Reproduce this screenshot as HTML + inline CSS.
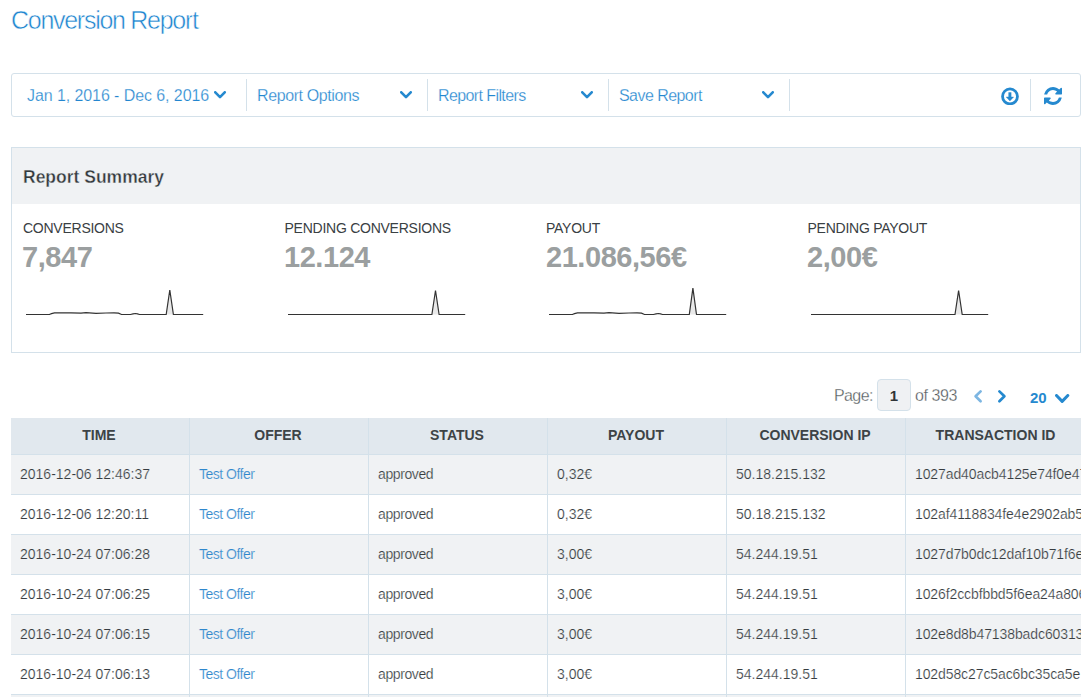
<!DOCTYPE html>
<html>
<head>
<meta charset="utf-8">
<style>
*{box-sizing:border-box;margin:0;padding:0}
html,body{width:1088px;height:697px;overflow:hidden;background:#fff}
body{position:relative;font-family:"Liberation Sans",Arial,sans-serif;color:#333}
.abs{position:absolute;white-space:nowrap}
.blue{color:#2589cf}
h1{position:absolute;left:11px;top:4.6px;font-size:25px;font-weight:400;color:#1e85cf;letter-spacing:-1.28px;line-height:30px;white-space:nowrap;-webkit-text-stroke:0.5px #fff}
.toolbar{position:absolute;left:11px;top:73px;width:1070px;height:44px;border:1px solid #d4e1ea;border-radius:3px;background:#fff}
.tb{position:absolute;top:1px;-webkit-text-stroke:0.25px #fff;height:42px;line-height:42px;font-size:16px;color:#2386cf;white-space:nowrap;letter-spacing:-0.25px}
.sep{position:absolute;top:5px;width:1px;height:32px;background:#d4e1ea}
.chev{position:absolute}
.panel{position:absolute;left:11px;top:147px;width:1070px;height:206px;border:1px solid #d4e1ea;background:#fff}
.panel .hd{position:absolute;left:0;top:0;right:0;height:56px;background:#f0f2f4}
.panel .hd span{position:absolute;left:11px;top:18px;font-size:17.5px;font-weight:700;color:#33393c;-webkit-text-stroke:0.35px #f0f2f4;line-height:22px;white-space:nowrap}
.stat{position:absolute;top:0}
.stat .lbl{position:absolute;left:0;top:72px;font-size:13.4px;color:#3f4648;line-height:16px;white-space:nowrap}
.stat .val{position:absolute;left:-1px;top:94px;font-size:28px;font-weight:700;color:#9b9fa0;line-height:32px;white-space:nowrap;letter-spacing:-0.2px}
.stat svg{position:absolute;left:0;top:130px}
.slbl{position:absolute;top:220px;font-size:14px;letter-spacing:-0.25px;color:#394043;line-height:16px;white-space:nowrap}
.sval{position:absolute;top:241px;font-size:29px;font-weight:700;color:#9b9fa0;line-height:32px;white-space:nowrap;letter-spacing:-0.45px}
.pg{font-size:16px;color:#4f5558;-webkit-text-stroke:0.3px #fff;line-height:20px;letter-spacing:-0.4px}
.pbox{width:34px;height:32px;border:1px solid #d4e1ea;border-radius:4px;background:#eff1f3;font-size:15px;font-weight:700;color:#2f3437;text-align:center;line-height:30px;padding-top:1px}
.pn{font-size:15px;font-weight:700;color:#2589cf;line-height:18px}
.pager{position:absolute;top:379px;height:32px}
.tablewrap{position:absolute;left:11px;top:418px;width:1070px;height:300px;overflow:hidden}
table{border-collapse:separate;border-spacing:0;table-layout:fixed;width:1074px}
th,td{width:179px;overflow:hidden;white-space:nowrap;text-align:left;border-right:1px solid #d4e1ea;border-bottom:1px solid #d4e1ea}
th{height:37px;background:#e1e8ee;font-size:14px;font-weight:700;color:#3d4346;text-align:center;padding:0 2px 2px 0}
th:last-child{padding:0 0 2px 1px}
td{height:40px;font-size:14px;color:#363c3f;padding:0 0 2px 9px;-webkit-text-stroke:0.2px #fff}
tr.g td{-webkit-text-stroke-color:#f0f2f4}
td.t{letter-spacing:-0.1px}
tr.g td{background:#f0f2f4}
td a{color:#2f87cc;text-decoration:none;letter-spacing:-0.5px}
td.s{letter-spacing:-0.4px}
</style>
</head>
<body>
<h1>Conversion Report</h1>

<div class="toolbar">
  <div class="tb" style="left:15px;letter-spacing:-0.08px">Jan 1, 2016 - Dec 6, 2016</div>
  <svg class="chev" style="left:202px;top:16.9px" width="13" height="9" viewBox="0 0 13 9"><path d="M1.3 1.3 L6 6.1 L10.7 1.3" fill="none" stroke="#2589cf" stroke-width="2.6" stroke-linecap="round" stroke-linejoin="round"/></svg>
  <div class="sep" style="left:234px"></div>
  <div class="tb" style="left:245px;letter-spacing:-0.4px">Report Options</div>
  <svg class="chev" style="left:388px;top:16.9px" width="13" height="9" viewBox="0 0 13 9"><path d="M1.3 1.3 L6 6.1 L10.7 1.3" fill="none" stroke="#2589cf" stroke-width="2.6" stroke-linecap="round" stroke-linejoin="round"/></svg>
  <div class="sep" style="left:415px"></div>
  <div class="tb" style="left:426px;letter-spacing:-0.6px">Report Filters</div>
  <svg class="chev" style="left:569px;top:16.9px" width="13" height="9" viewBox="0 0 13 9"><path d="M1.3 1.3 L6 6.1 L10.7 1.3" fill="none" stroke="#2589cf" stroke-width="2.6" stroke-linecap="round" stroke-linejoin="round"/></svg>
  <div class="sep" style="left:596px"></div>
  <div class="tb" style="left:607px;letter-spacing:-0.55px">Save Report</div>
  <svg class="chev" style="left:750px;top:16.9px" width="13" height="9" viewBox="0 0 13 9"><path d="M1.3 1.3 L6 6.1 L10.7 1.3" fill="none" stroke="#2589cf" stroke-width="2.6" stroke-linecap="round" stroke-linejoin="round"/></svg>
  <div class="sep" style="left:777px"></div>
  <!-- download icon -->
  <svg class="abs" style="left:989px;top:13.2px" width="18" height="18" viewBox="0 0 18 18"><circle cx="9" cy="9.4" r="7.45" fill="none" stroke="#2589cf" stroke-width="2.8"/><rect x="7.45" y="5.3" width="2.9" height="5.2" fill="#2589cf"/><path d="M5.2 10 L12.6 10 L8.9 14 Z" fill="#2589cf" stroke="#2589cf" stroke-width="0.4" stroke-linejoin="round"/></svg>
  <div class="sep" style="left:1018px"></div>
  <!-- refresh icon -->
  <svg class="abs" style="left:1032px;top:12.9px" width="18" height="18" viewBox="0 0 1536 1536"><path fill="#2589cf" d="M1511 928q0 5-1 7-64 268-268 434.5t-478 166.5q-146 0-282.5-55t-243.5-157l-129 129q-19 19-45 19t-45-19-19-45v-448q0-26 19-45t45-19h448q26 0 45 19t19 45-19 45l-137 137q71 66 161 102t187 36q134 0 250-65t186-179q11-17 53-117 8-23 30-23h192q13 0 22.5 9.5t9.5 22.5zm25-800v448q0 26-19 45t-45 19h-448q-26 0-45-19t-19-45 19-45l138-138q-148-137-349-137-134 0-250 65t-186 179q-11 17-53 117-8 23-30 23h-199q-13 0-22.5-9.5t-9.5-22.5v-7q65-268 270-434.5t480-166.5q146 0 284 55.5t245 156.5l130-129q19-19 45-19t45 19 19 45z"/></svg>
</div>

<div class="panel">
  <div class="hd"><span>Report Summary</span></div>
</div>

<!--STATS-->
<div class="slbl" style="left:23px">CONVERSIONS</div>
<div class="sval" style="left:22px">7,847</div>
<svg class="abs" style="left:24.4px;top:283px" width="184" height="34"><polygon points="142.20,31.50 145.80,7.00 149.40,31.50" fill="#e9e9e9"/><polyline points="2.00,31.50 25.40,31.50 27.50,30.60 30.50,29.90 47.00,29.80 57.00,30.10 62.00,29.60 72.00,30.30 82.00,30.00 90.00,29.90 94.50,30.10 97.50,31.50 106.50,31.50 109.00,30.90 111.30,30.50 113.50,30.90 115.50,31.50 142.20,31.50 145.80,7.00 149.40,31.50 179.20,31.50" fill="none" stroke="#333" stroke-width="1.2" stroke-linejoin="miter"/></svg>
<div class="slbl" style="left:284.5px">PENDING CONVERSIONS</div>
<div class="sval" style="left:284px">12.124</div>
<svg class="abs" style="left:285.5px;top:283px" width="184" height="34"><polygon points="145.90,31.50 149.50,7.50 153.10,31.50" fill="#e9e9e9"/><polyline points="2.00,31.50 145.90,31.50 149.50,7.50 153.10,31.50 179.20,31.50" fill="none" stroke="#333" stroke-width="1.2" stroke-linejoin="miter"/></svg>
<div class="slbl" style="left:546px">PAYOUT</div>
<div class="sval" style="left:546px">21.086,56€</div>
<svg class="abs" style="left:547.3px;top:283px" width="184" height="34"><polygon points="142.30,31.50 145.90,5.20 149.50,31.50" fill="#e9e9e9"/><polyline points="2.00,31.50 25.40,31.50 27.50,30.60 30.50,29.90 47.00,29.80 57.00,30.10 62.00,29.60 72.00,30.30 82.00,30.00 90.00,29.90 94.50,30.10 97.50,31.50 106.50,31.50 109.00,30.90 111.30,30.50 113.50,30.90 115.50,31.50 142.30,31.50 145.90,5.20 149.50,31.50 179.20,31.50" fill="none" stroke="#333" stroke-width="1.2" stroke-linejoin="miter"/></svg>
<div class="slbl" style="left:807.5px">PENDING PAYOUT</div>
<div class="sval" style="left:807px">2,00€</div>
<svg class="abs" style="left:809.2px;top:283px" width="184" height="34"><polygon points="146.00,31.50 149.60,7.50 153.20,31.50" fill="#e9e9e9"/><polyline points="2.00,31.50 146.00,31.50 149.60,7.50 153.20,31.50 179.20,31.50" fill="none" stroke="#333" stroke-width="1.2" stroke-linejoin="miter"/></svg>
<!--/STATS-->

<!--PAGER-->
<div class="abs pg" style="left:834px;top:386px;letter-spacing:-0.6px">Page:</div>
<div class="abs pbox" style="left:877px;top:379px">1</div>
<div class="abs pg" style="left:915px;top:386px">of 393</div>
<svg class="abs" style="left:972px;top:389px" width="12" height="15" viewBox="0 0 12 15"><path d="M8.6 2.4 L3.6 7.3 L8.6 12.2" fill="none" stroke="#7db6e2" stroke-width="2.7" stroke-linecap="round" stroke-linejoin="round"/></svg>
<svg class="abs" style="left:996px;top:389px" width="12" height="15" viewBox="0 0 12 15"><path d="M3.4 2.4 L8.4 7.3 L3.4 12.2" fill="none" stroke="#2589cf" stroke-width="2.7" stroke-linecap="round" stroke-linejoin="round"/></svg>
<div class="abs pn" style="left:1030px;top:389px">20</div>
<svg class="abs" style="left:1055.3px;top:393.5px" width="15" height="10" viewBox="0 0 15 10"><path d="M1.5 1.5 L7.15 7.4 L12.8 1.5" fill="none" stroke="#2589cf" stroke-width="3" stroke-linecap="round" stroke-linejoin="round"/></svg>
<!--/PAGER-->

<div class="tablewrap">
<table>
<!--ROWS-->
<tr><th>TIME</th><th>OFFER</th><th>STATUS</th><th>PAYOUT</th><th>CONVERSION IP</th><th>TRANSACTION ID</th></tr>
<tr class="g"><td>2016-12-06 12:46:37</td><td><a>Test Offer</a></td><td class="s">approved</td><td>0,32€</td><td>50.18.215.132</td><td class="t">1027ad40acb4125e74f0e47</td></tr>
<tr><td>2016-12-06 12:20:11</td><td><a>Test Offer</a></td><td class="s">approved</td><td>0,32€</td><td>50.18.215.132</td><td class="t">102af4118834fe4e2902ab5</td></tr>
<tr class="g"><td>2016-10-24 07:06:28</td><td><a>Test Offer</a></td><td class="s">approved</td><td>3,00€</td><td>54.244.19.51</td><td class="t">1027d7b0dc12daf10b71f6e</td></tr>
<tr><td>2016-10-24 07:06:25</td><td><a>Test Offer</a></td><td class="s">approved</td><td>3,00€</td><td>54.244.19.51</td><td class="t">1026f2ccbfbbd5f6ea24a806</td></tr>
<tr class="g"><td>2016-10-24 07:06:15</td><td><a>Test Offer</a></td><td class="s">approved</td><td>3,00€</td><td>54.244.19.51</td><td class="t">102e8d8b47138badc60313</td></tr>
<tr><td>2016-10-24 07:06:13</td><td><a>Test Offer</a></td><td class="s">approved</td><td>3,00€</td><td>54.244.19.51</td><td class="t">102d58c27c5ac6bc35ca5e</td></tr>
<tr class="g"><td>2016-10-24 07:06:10</td><td><a>Test Offer</a></td><td class="s">approved</td><td>3,00€</td><td>54.244.19.51</td><td class="t">102c3f8d2e1ab5c77f91d2</td></tr>
<!--/ROWS-->
</table>
</div>
</body>
</html>
